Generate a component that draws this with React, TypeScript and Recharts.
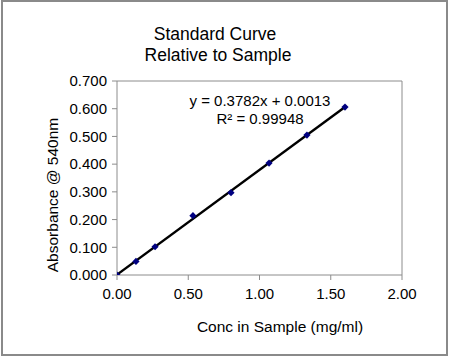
import React from 'react';
import { ComposedChart, Scatter, Line, XAxis, YAxis, ReferenceLine, Customized } from 'recharts';

const concX = [0, 0.133, 0.267, 0.533, 0.8, 1.067, 1.333, 1.6];
const absorbanceY = [0.0, 0.049, 0.102, 0.214, 0.297, 0.404, 0.505, 0.606];
const trendX = [0, 1.6];
const trendY = [0.0013, 0.6064];
const xTicks = [0, 0.5, 1, 1.5, 2];
const yTicks = [0, 0.1, 0.2, 0.3, 0.4, 0.5, 0.6, 0.7];

const points = concX.map((x, i) => ({ x, y: absorbanceY[i] }));
const trend = trendX.map((x, i) => ({ x, y: trendY[i] }));

const FONT = 'Liberation Sans, Arial, sans-serif';

const Diamond = (props: any) => {
  const { cx, cy } = props;
  const r = 3.6;
  return (
    <polygon
      points={`${cx},${cy - r} ${cx + r},${cy} ${cx},${cy + r} ${cx - r},${cy}`}
      fill="#000080"
    />
  );
};

const Overlay = () => (
  <g fontFamily={FONT} fill="#000">
    <rect x={2} y={1} width={445} height={354} fill="none" stroke="#8a8a8a" strokeWidth={2} />
    <text x={215} y={40} textAnchor="middle" fontSize={17.5}>Standard Curve</text>
    <text x={218} y={61} textAnchor="middle" fontSize={17.5}>Relative to Sample</text>
    <text x={260} y={106} textAnchor="middle" fontSize={15}>y = 0.3782x + 0.0013</text>
    <text x={260} y={124} textAnchor="middle" fontSize={15}>R² = 0.99948</text>
    <text x={280} y={332} textAnchor="middle" fontSize={15.5}>Conc in Sample (mg/ml)</text>
    <text x={0} y={0} textAnchor="middle" fontSize={15.5} transform="translate(58,195) rotate(-90)">Absorbance @ 540nm</text>
  </g>
);

export default function App() {
  return (
    <div style={{ position: 'absolute', left: 0, top: 0, background: '#fff' }}>
      <ComposedChart width={450} height={357} margin={{ top: 81, right: 48, bottom: 52, left: 0 }}>
        <XAxis
          type="number"
          dataKey="x"
          domain={[0, 2]}
          ticks={xTicks}
          tickFormatter={(v: number) => v.toFixed(2)}
          height={30}
          stroke="#8c8c8c"
          tickSize={5}
          tick={{ fill: '#000', fontSize: 15, fontFamily: FONT, dy: 6 }}
          allowDataOverflow
        />
        <YAxis
          type="number"
          dataKey="y"
          domain={[0, 0.7]}
          ticks={yTicks}
          tickFormatter={(v: number) => v.toFixed(3)}
          width={117}
          stroke="#8c8c8c"
          tickSize={5}
          tick={{ fill: '#000', fontSize: 15, fontFamily: FONT, dx: -3 }}
          allowDataOverflow
        />
        <ReferenceLine y={0.7} stroke="#8c8c8c" />
        <ReferenceLine x={2} stroke="#8c8c8c" />
        <Scatter data={points} fill="#000080" shape={Diamond} isAnimationActive={false} />
        <Line data={trend} dataKey="y" stroke="#000" strokeWidth={2.4} dot={false} isAnimationActive={false} />
        <Customized component={Overlay} />
      </ComposedChart>
    </div>
  );
}
